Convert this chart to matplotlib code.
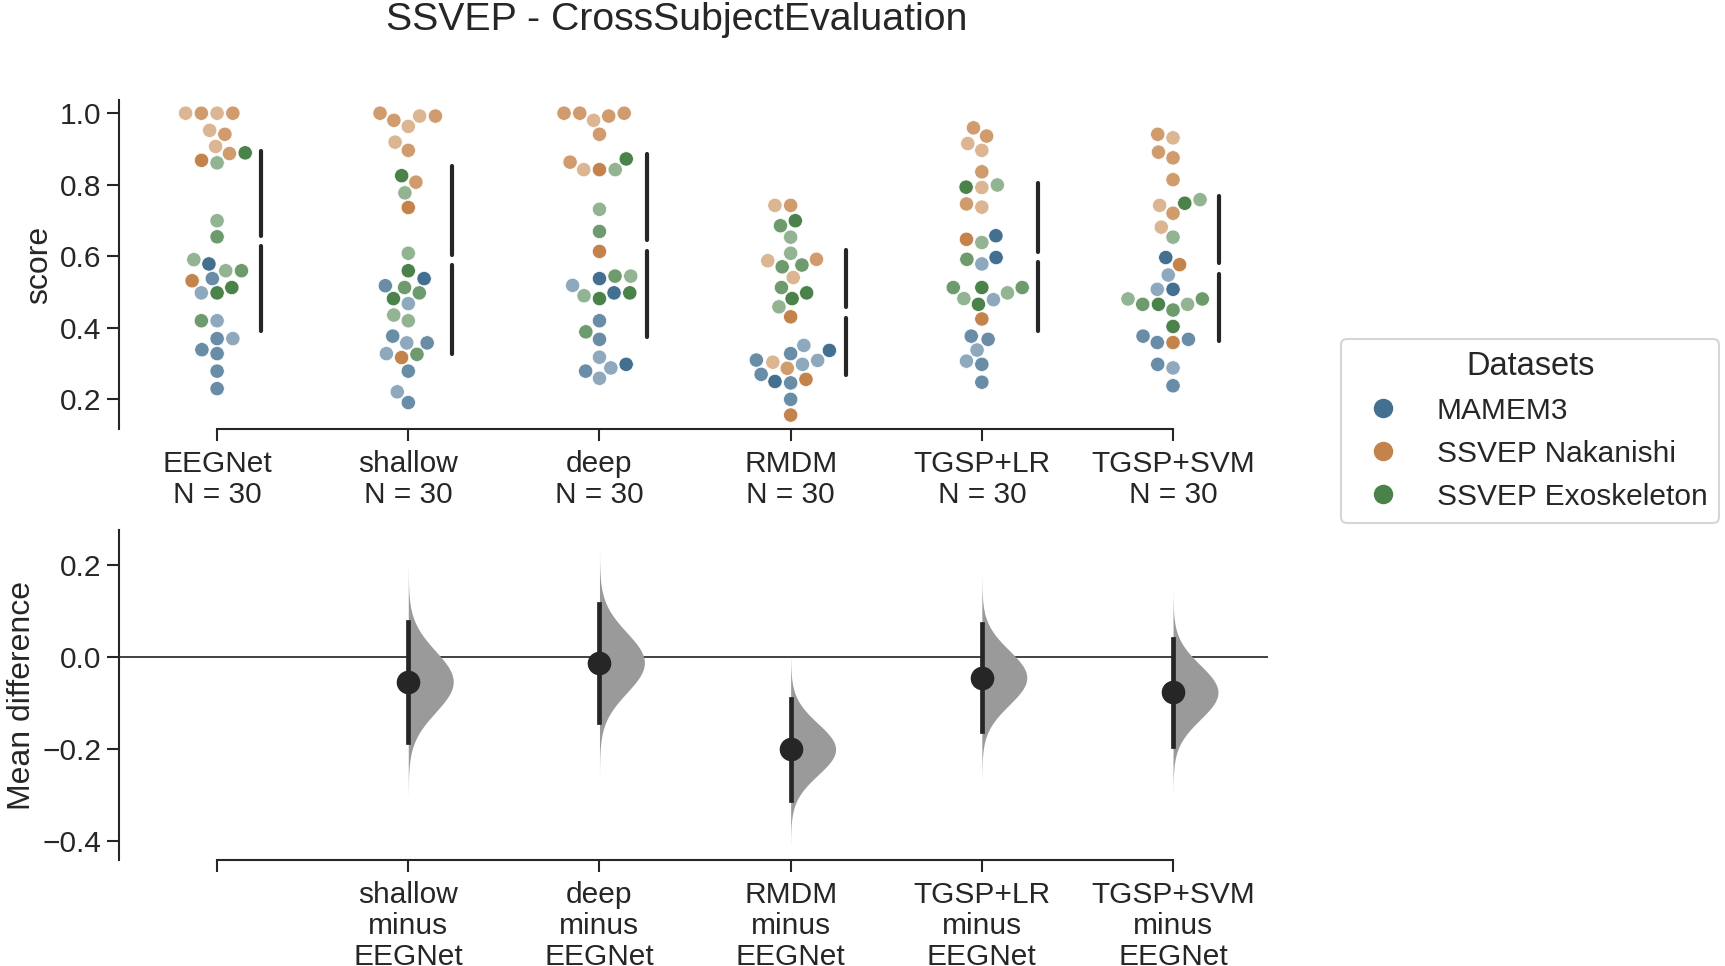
# -*- coding: utf-8 -*-
'''
Gráfico de estimación (estilo DABEST): SSVEP - CrossSubjectEvaluation
Arriba el enjambre de puntajes por pipeline, abajo la diferencia de medias
respecto a EEGNet con su distribución aproximada.
'''

# %%
import numpy as np
import pandas as pd
import matplotlib
matplotlib.use('Agg')
import matplotlib.pyplot as plt
import seaborn as sns
from matplotlib.lines import Line2D
from matplotlib.colors import to_rgb

# %% datos
pipelines = ['EEGNet', 'shallow', 'deep', 'RMDM', 'TGSP+LR', 'TGSP+SVM']
datasets = ['MAMEM3', 'SSVEP Nakanishi', 'SSVEP Exoskeleton']
codigos = {'M': 'MAMEM3', 'N': 'SSVEP Nakanishi', 'E': 'SSVEP Exoskeleton'}

# puntajes, dataset de cada punto (M/N/E) y tono del punto (0 oscuro, 1 medio, 2 claro)
eegnet_score = [1.0, 1.0, 1.0, 1.0, 0.952, 0.941, 0.907, 0.887, 0.868, 0.889,
                0.861, 0.699, 0.654, 0.590, 0.578, 0.559, 0.559, 0.537, 0.531, 0.497,
                0.512, 0.497, 0.419, 0.419, 0.369, 0.369, 0.338, 0.327, 0.278, 0.229]
eegnet_ds = 'NNNNNNNNNEEEEEMEEMNEEMEMMMMMMM'
eegnet_tono = [1, 2, 2, 1, 2, 1, 2, 1, 0, 0, 2, 2, 1, 2, 0,
               2, 1, 1, 0, 0, 0, 2, 1, 2, 1, 2, 1, 1, 1, 1]

shallow_score = [1.0, 0.980, 0.963, 0.992, 0.992, 0.919, 0.896, 0.825, 0.807, 0.777,
                 0.736, 0.608, 0.559, 0.537, 0.517, 0.512, 0.497, 0.481, 0.467, 0.435,
                 0.419, 0.376, 0.357, 0.357, 0.327, 0.316, 0.325, 0.278, 0.220, 0.190]
shallow_ds = 'NNNNNNNENENEEMMEEEMEEMMMMNEMMM'
shallow_tono = [1, 1, 2, 2, 1, 2, 1, 0, 1, 2, 0, 2, 0, 0, 1,
                1, 1, 0, 2, 2, 2, 1, 1, 2, 2, 0, 1, 1, 2, 1]

deep_score = [1.0, 0.992, 0.980, 1.0, 1.0, 0.941, 0.863, 0.842, 0.842, 0.842,
              0.872, 0.731, 0.669, 0.613, 0.544, 0.537, 0.544, 0.518, 0.489, 0.481,
              0.497, 0.497, 0.419, 0.388, 0.367, 0.317, 0.287, 0.278, 0.297, 0.258]
deep_ds = 'NNNNNNNNENEEENEMEMEEEMMEMMMMMM'
deep_tono = [1, 1, 2, 1, 1, 1, 1, 0, 2, 2, 0, 2, 1, 0, 2,
             0, 1, 2, 2, 0, 0, 0, 1, 1, 1, 2, 2, 1, 0, 2]

rmdm_score = [0.742, 0.742, 0.685, 0.699, 0.653, 0.608, 0.591, 0.570, 0.575, 0.587,
              0.540, 0.512, 0.497, 0.481, 0.458, 0.430, 0.350, 0.336, 0.327, 0.309,
              0.308, 0.303, 0.297, 0.286, 0.269, 0.255, 0.249, 0.245, 0.199, 0.155]
rmdm_ds = 'NNEEEENEENNEEEENMMMMMNMNMNMMMN'
rmdm_tono = [1, 2, 1, 0, 2, 2, 1, 1, 1, 2, 2, 1, 0, 0, 2,
             0, 2, 0, 1, 1, 2, 2, 2, 1, 1, 0, 0, 1, 1, 0]

tgsplr_score = [0.959, 0.936, 0.915, 0.896, 0.836, 0.793, 0.792, 0.799, 0.746, 0.737,
                0.647, 0.638, 0.657, 0.591, 0.578, 0.596, 0.497, 0.512, 0.512, 0.512,
                0.478, 0.465, 0.481, 0.424, 0.367, 0.376, 0.337, 0.306, 0.297, 0.247]
tgsplr_ds = 'NNNNNENENNNEMEMMEEEEMEENMMMMMM'
tgsplr_tono = [1, 1, 2, 2, 1, 0, 2, 2, 1, 2, 0, 2, 0, 1, 2,
               0, 2, 1, 1, 0, 2, 0, 2, 0, 1, 1, 2, 2, 1, 1]

tgspsvm_score = [0.941, 0.931, 0.891, 0.875, 0.814, 0.742, 0.720, 0.748, 0.758, 0.681,
                 0.653, 0.576, 0.596, 0.547, 0.507, 0.507, 0.480, 0.465, 0.465, 0.449,
                 0.465, 0.480, 0.403, 0.376, 0.358, 0.358, 0.367, 0.297, 0.287, 0.237]
tgspsvm_ds = 'NNNNNNNEENENMMMMEEEEEEEMNMMMMM'
tgspsvm_tono = [1, 2, 1, 1, 1, 2, 1, 0, 2, 2, 2, 0, 0, 2, 2,
                0, 1, 2, 1, 1, 0, 2, 0, 1, 0, 1, 1, 1, 2, 1]

puntajes = [eegnet_score, shallow_score, deep_score, rmdm_score, tgsplr_score, tgspsvm_score]
conjuntos = [eegnet_ds, shallow_ds, deep_ds, rmdm_ds, tgsplr_ds, tgspsvm_ds]
tonos = [eegnet_tono, shallow_tono, deep_tono, rmdm_tono, tgsplr_tono, tgspsvm_tono]

# %% estilo
negro = '#262626'
colores = {'MAMEM3': '#436f91', 'SSVEP Nakanishi': '#c4834a', 'SSVEP Exoskeleton': '#4a8249'}
alfas = {0: 1.0, 1: 0.8, 2: 0.6}

plt.rcParams['font.family'] = ['Liberation Sans', 'DejaVu Sans']
plt.rcParams['text.color'] = negro
plt.rcParams['axes.labelcolor'] = negro
plt.rcParams['axes.edgecolor'] = negro
plt.rcParams['xtick.color'] = negro
plt.rcParams['ytick.color'] = negro
plt.rcParams['axes.linewidth'] = 1.5

# %% tabla larga para seaborn
filas = []
for nombre, sc, ds, tn in zip(pipelines, puntajes, conjuntos, tonos):
    for v, d, t in zip(sc, ds, tn):
        filas.append({'pipeline': nombre, 'score': v,
                      'dataset': codigos[d], 'grupo': d + str(t)})
df = pd.DataFrame(filas)

# colores opacos mezclados con blanco según el tono
paleta = {}
for c in 'MNE':
    base = np.array(to_rgb(colores[codigos[c]]))
    for t, a in alfas.items():
        paleta[c + str(t)] = tuple(base * a + (1 - a))

# %%
fig = plt.figure(figsize=(17.25, 9.66), dpi=100)
ax1 = fig.add_axes([0.069, 0.5559, 0.6661, 0.3406])
ax2 = fig.add_axes([0.069, 0.1097, 0.6661, 0.3416])
xlim = (-0.513, 5.497)

sns.swarmplot(data=df, x='pipeline', y='score', hue='grupo', palette=paleta,
              order=pipelines, size=10.3, linewidth=0.5, edgecolor='white',
              legend=False, ax=ax1)
ax1.set_xlim(xlim)
ax1.set_ylim(0.116, 1.037)
fig.canvas.draw()  # para que el enjambre calcule sus posiciones

# líneas media ± desviación a la derecha de cada enjambre
hueco = 0.015
for col in ax1.collections:
    off = np.asarray(col.get_offsets())
    if len(off) == 0:
        continue
    i = int(round(np.median(off[:, 0])))
    vals = df.loc[df.pipeline == pipelines[i], 'score']
    m, s = vals.mean(), vals.std()
    x = off[:, 0].max() + 0.085
    ax1.plot([x, x], [m - s, m - hueco], color=negro, lw=3, solid_capstyle='round')
    ax1.plot([x, x], [m + hueco, m + s], color=negro, lw=3, solid_capstyle='round')

etiquetas = ['%s\nN = %d' % (p, (df.pipeline == p).sum()) for p in pipelines]
ax1.set_xticks(range(len(pipelines)))
ax1.set_xticklabels(etiquetas, fontsize=21.5, linespacing=1.13)
ax1.set_yticks([0.2, 0.4, 0.6, 0.8, 1.0])
ax1.set_yticklabels(['0.2', '0.4', '0.6', '0.8', '1.0'], fontsize=21.5)
ax1.set_xlabel('')
ax1.set_ylabel('score', fontsize=23)

# %% diferencia de medias contra EEGNet
ref = np.array(eegnet_score)
ancho = 0.235
for i, sc in enumerate(puntajes[1:], start=1):
    b = np.array(sc)
    dif = b.mean() - ref.mean()
    se = np.sqrt(ref.var(ddof=1) / len(ref) + b.var(ddof=1) / len(b))
    yy = np.linspace(dif - 3.7 * se, dif + 3.7 * se, 300)
    dens = np.exp(-0.5 * ((yy - dif) / se) ** 2)
    ax2.fill_betweenx(yy, i, i + ancho * dens, color='#9a9a9a', lw=0)
    ax2.plot([i, i], [dif - 1.96 * se, dif + 1.96 * se], color=negro, lw=3.4)
    ax2.plot(i, dif, 'o', ms=16, color=negro)

ax2.axhline(0, color='#333333', lw=1.3, zorder=0)
ax2.set_xlim(xlim)
ax2.set_ylim(-0.441, 0.276)
ax2.set_xticks(range(len(pipelines)))
ax2.set_xticklabels([''] + ['%s\nminus\n%s' % (p, pipelines[0]) for p in pipelines[1:]],
                    fontsize=21.5, linespacing=1.13)
ax2.set_yticks([-0.4, -0.2, 0.0, 0.2])
ax2.set_yticklabels(['\u22120.4', '\u22120.2', '0.0', '0.2'], fontsize=21.5)
ax2.set_ylabel('Mean difference', fontsize=23)

for ax in (ax1, ax2):
    ax.spines['top'].set_visible(False)
    ax.spines['right'].set_visible(False)
    ax.spines['bottom'].set_bounds(0, len(pipelines) - 1)
    ax.tick_params(length=8.5, width=1.5, pad=4)
    ax.tick_params(axis='x', pad=6.5)

# %% leyenda y título
manijas = [Line2D([], [], marker='o', ls='', color=colores[d], markersize=13)
           for d in datasets]
leg = fig.legend(manijas, datasets, title='Datasets', loc='upper left',
                 bbox_to_anchor=(0.7774, 0.649), borderaxespad=0,
                 fontsize=21.5, title_fontsize=23.5, frameon=True, fancybox=True,
                 edgecolor='#cccccc', borderpad=0.4, labelspacing=0.5,
                 handlelength=2, handletextpad=0.8)
leg.get_frame().set_linewidth(1.5)

fig.text(0.3925, 1 - 30 / 966, 'SSVEP - CrossSubjectEvaluation',
         fontsize=28.3, ha='center', va='baseline')

fig.savefig('out.png', dpi=100)
